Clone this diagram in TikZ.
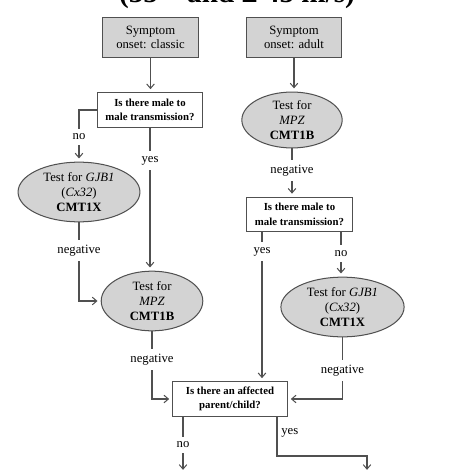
\documentclass[tikz,border=0pt]{standalone}
\usepackage{fontspec}
\setmainfont{Liberation Serif}
\usetikzlibrary{shapes.geometric,arrows.meta}
\definecolor{boxgray}{HTML}{D3D3D3}
\definecolor{linegray}{HTML}{505050}
\tikzset{
  onset/.style={draw=linegray,fill=boxgray,line width=0.8pt,minimum width=75pt,minimum height=31pt,align=center,inner sep=1pt},
  quest/.style={draw=linegray,fill=white,line width=0.8pt,minimum height=27pt,align=center,inner sep=2pt,font=\fontsize{8.5}{11.5}\selectfont\bfseries},
  gtest/.style={ellipse,draw=linegray,fill=boxgray,line width=0.8pt,align=center,inner sep=0pt},
  flow/.style={draw=linegray,line width=0.8pt,-{Straight Barb[length=3.5pt,width=6pt]},shorten >=2.5pt},
  lbl/.style={fill=white,inner xsep=1.5pt,inner ysep=4pt,text=black},
}
\begin{document}
\begin{tikzpicture}[x=0.7874pt,y=-0.7874pt,font=\fontsize{10}{11.5}\selectfont]
\clip (0,0) rectangle (474,474);
\useasboundingbox (0,0) rectangle (474,474);
% cut title
\node[anchor=base,font=\fontsize{23}{26}\selectfont\bfseries] (title) at (237,3) {(35 – and ≥ 45 m/s)};
% start boxes
\node[onset] (c1) at (150.5,37.5) {Symptom\\onset: classic};
\node[onset] (c2) at (294,37.5) {Symptom\\onset: adult};
% left branch
\node[quest,minimum width=83pt] (q1) at (150,110) {Is there male to\\male transmission?};
\node[gtest,minimum width=96pt,minimum height=47pt] (g1) at (79,192) {Test for \textit{GJB1}\\(\textit{Cx32})\\\textbf{CMT1X}};
\node[gtest,minimum width=80pt,minimum height=47pt] (m1) at (152,301) {Test for\\\textit{MPZ}\\\textbf{CMT1B}};
% right branch
\node[gtest,minimum width=79pt,minimum height=44pt] (m2) at (292,120) {Test for\\\textit{MPZ}\\\textbf{CMT1B}};
\node[quest,minimum width=83pt] (q2) at (299.5,214.5) {Is there male to\\male transmission?};
\node[gtest,minimum width=97pt,minimum height=47pt] (g2) at (342.5,307) {Test for \textit{GJB1}\\(\textit{Cx32})\\\textbf{CMT1X}};
% joint question
\node[quest,minimum width=90pt] (q3) at (230,399) {Is there an affected\\parent/child?};
\coordinate (q2yes) at (262,0);
\coordinate (q2no) at (341,0);
\coordinate (q3no) at (183,473);
\coordinate (q3yes) at (277,0);
\coordinate (yesbend) at (367,456);
\coordinate (yesend) at (367,473);
% connectors
\draw[flow] (c1.south) -- (c1.south |- q1.north);
\draw[flow] (c2.south) -- (c2.south |- m2.north);
\draw[flow] (q1.west) -| node[lbl,pos=0.76] {no} (g1.north);
\draw[flow] (q1.south) -- node[lbl,pos=0.23] {yes} (q1.south |- m1.north);
\draw[flow] (g1.south) |- node[lbl,pos=0.18] {negative} (m1.west);
\draw[flow] (m1.south) |- node[lbl,pos=0.21] {negative} (q3.west);
\draw[flow] (m2.south) -- node[lbl,pos=0.45] {negative} (m2.south |- q2.north);
\draw[flow] (q2.south -| q2yes) -- node[lbl,pos=0.13] {yes} (q3.north -| q2yes);
\draw[flow] (q2.south -| q2no) -- node[lbl,pos=0.48] {no} (q2no |- g2.north);
\draw[flow] (g2.south) |- node[lbl,pos=0.27] {negative} (q3.east);
\draw[flow] (q3.south -| q3no) -- node[lbl,pos=0.5] {no} (q3no);
\draw[flow] (q3.south -| q3yes) |- node[right,pos=0.21,inner sep=3pt] {yes} (yesbend) -- (yesend);
\end{tikzpicture}
\end{document}
